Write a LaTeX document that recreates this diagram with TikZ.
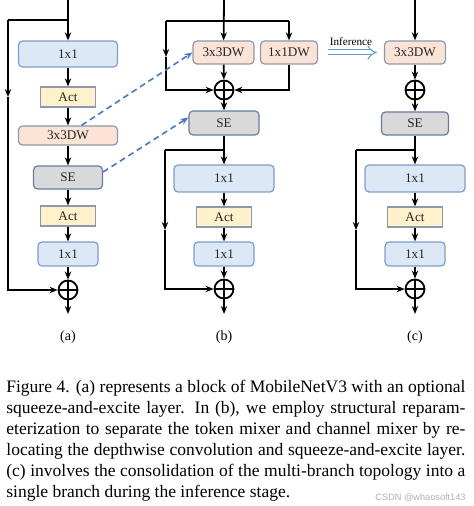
\documentclass[tikz,border=0pt]{standalone}
\usepackage{fontspec}
\setmainfont{Liberation Serif}
\newfontfamily\marksans{Liberation Sans}
\usetikzlibrary{positioning, arrows.meta}
\definecolor{convfill}{HTML}{DDE8F6}
\definecolor{convline}{HTML}{7F9CC8}
\definecolor{actfill}{HTML}{FFF1CC}
\definecolor{dwfill}{HTML}{FBE3D6}
\definecolor{sefill}{HTML}{D9D9D9}
\definecolor{boxline}{HTML}{8C98AE}
\definecolor{dashblue}{HTML}{4A78C8}
\definecolor{inferblue}{HTML}{5B9BD5}

\begin{document}
\begin{tikzpicture}[
    x=0.5pt, y=-0.5pt,
    >={Stealth[length=4pt, width=3.2pt]},
    flow/.style={draw=black, line width=0.9pt},
    box/.style={rectangle, draw=boxline, line width=0.6pt, rounded corners=2pt,
        inner sep=0pt, text centered, text=black!85,
        font=\fontsize{6.6pt}{7pt}\selectfont},
    conv/.style={box, fill=convfill, draw=convline},
    act/.style={box, fill=actfill, rounded corners=0pt,
        minimum width=27.5pt, minimum height=10pt},
    dwconv/.style={box, fill=dwfill},
    se/.style={box, fill=sefill, draw=convline!80!black},
    addop/.style={circle, draw=black, line width=0.9pt, minimum size=9.5pt, inner sep=0pt,
        path picture={\draw[line width=0.9pt]
            (path picture bounding box.north) -- (path picture bounding box.south)
            (path picture bounding box.west) -- (path picture bounding box.east);}},
    lab/.style={font=\fontsize{7pt}{8pt}\selectfont},
    mapping/.style={draw=dashblue, line width=0.8pt, dash pattern=on 3pt off 2pt, ->},
    infer/.style={draw=inferblue, line width=0.5pt, double=white, double distance=2pt,
        -{Implies}, shorten <=5pt, shorten >=3.5pt},
    caption/.style={text width=229.5pt, align=justify, inner sep=0pt,
        font=\fontsize{8.75pt}{10.5pt}\selectfont}
]
\useasboundingbox (0,0) rectangle (474,506);

% (a) MobileNetV3 block
\node (c1a) [conv, minimum width=49.5pt, minimum height=13pt] at (68,54) {1x1};
\node (act1a) [act] at (68,97) {Act};
\node (dwa) [dwconv, minimum width=49.5pt, minimum height=9.5pt] at (68,135.5) {3x3DW};
\node (sea) [se, minimum width=34.5pt, minimum height=11.5pt] at (68,177.5) {SE};
\node (act2a) [act] at (68,216) {Act};
\node (c2a) [conv, minimum width=30pt, minimum height=12pt] at (68,254) {1x1};
\node (adda) [addop] at (68,290) {};
\node (laba) [lab] at (68,337) {(a)};
\coordinate (ina) at (68,0);
\coordinate (fa) at (68,20);
\coordinate (la) at (8,20);
\coordinate (ma) at (8,97);
\coordinate (outa) at (68,314);

\draw[flow, ->] (ina) -- (c1a);
\draw[flow] (fa) -- (la);
\draw[flow, ->] (la) -- (ma);
\draw[flow, ->] (ma) |- (adda);
\draw[flow, ->] (c1a) -- (act1a);
\draw[flow, ->] (act1a) -- (dwa);
\draw[flow, ->] (dwa) -- (sea);
\draw[flow, ->] (sea) -- (act2a);
\draw[flow, ->] (act2a) -- (c2a);
\draw[flow, ->] (c2a) -- (adda);
\draw[flow, ->] (adda) -- (outa);

% (b) reparameterized training block
\node (dwb) [dwconv, minimum width=30.5pt, minimum height=11.5pt] at (223.5,52.5) {3x3DW};
\node (pwb) [dwconv, minimum width=28.5pt, minimum height=11.5pt] at (289,52.5) {1x1DW};
\node (addb1) [addop] at (224,90) {};
\node (seb) [se, minimum width=35pt, minimum height=12pt] at (224,123) {SE};
\node (c1b) [conv, minimum width=50pt, minimum height=13.5pt] at (224,178.5) {1x1};
\node (actb) [act] at (224,217) {Act};
\node (c2b) [conv, minimum width=30pt, minimum height=12pt] at (224,254) {1x1};
\node (addb2) [addop] at (224,289) {};
\node (labb) [lab] at (224,337) {(b)};
\coordinate (inb) at (224,0);
\coordinate (fb) at (224,21);
\coordinate (lb) at (166,21);
\coordinate (rb) at (289,21);
\coordinate (mb) at (166,57);
\coordinate (fb2) at (224,150);
\coordinate (lb2) at (165,150);
\coordinate (mb2) at (165,230);
\coordinate (outb) at (224,314);

\draw[flow, ->] (inb) -- (dwb);
\draw[flow] (lb) -- (rb);
\draw[flow, ->] (rb) -- (pwb);
\draw[flow, ->] (lb) -- (mb);
\draw[flow, ->] (mb) |- (addb1);
\draw[flow, ->] (dwb) -- (addb1);
\draw[flow, ->] (pwb) |- (addb1);
\draw[flow, ->] (addb1) -- (seb);
\draw[flow, ->] (seb) -- (c1b);
\draw[flow] (fb2) -- (lb2);
\draw[flow, ->] (lb2) -- (mb2);
\draw[flow, ->] (mb2) |- (addb2);
\draw[flow, ->] (c1b) -- (actb);
\draw[flow, ->] (actb) -- (c2b);
\draw[flow, ->] (c2b) -- (addb2);
\draw[flow, ->] (addb2) -- (outb);

% (c) single branch at inference
\node (dwc) [dwconv, minimum width=30.5pt, minimum height=11.5pt] at (415,52.5) {3x3DW};
\node (addc1) [addop] at (415,90) {};
\node (sec) [se, minimum width=33.5pt, minimum height=11.5pt] at (415,123.5) {SE};
\node (c1c) [conv, minimum width=50pt, minimum height=13.5pt] at (415,178.5) {1x1};
\node (actc) [act] at (415,217) {Act};
\node (c2c) [conv, minimum width=30pt, minimum height=12pt] at (415,254) {1x1};
\node (addc2) [addop] at (415,289) {};
\node (labc) [lab] at (415,337) {(c)};
\coordinate (inc) at (415,0);
\coordinate (fc) at (415,150);
\coordinate (lc) at (356,150);
\coordinate (mc) at (356,230);
\coordinate (outc) at (415,314);

\draw[flow, ->] (inc) -- (dwc);
\draw[flow, ->] (dwc) -- (addc1);
\draw[flow, ->] (addc1) -- (sec);
\draw[flow, ->] (sec) -- (c1c);
\draw[flow] (fc) -- (lc);
\draw[flow, ->] (lc) -- (mc);
\draw[flow, ->] (mc) |- (addc2);
\draw[flow, ->] (c1c) -- (actc);
\draw[flow, ->] (actc) -- (c2c);
\draw[flow, ->] (c2c) -- (addc2);
\draw[flow, ->] (addc2) -- (outc);

% relocation and inference
\draw[mapping] ([xshift=6.75pt]dwa.north) -- (dwb.west);
\draw[mapping] ([yshift=2.75pt]sea.east) -- ([yshift=2.75pt]seb.west);
\draw[infer] (pwb.east) -- node[above=3pt, inner sep=0pt, font=\fontsize{5.6pt}{6pt}\selectfont] {Inference} (dwc.west);

% caption
\node (cap) [caption, anchor=base west] at (6,392) {\hyphenpenalty=10000\exhyphenpenalty=10000%
    Figure 4. (a) represents a block of MobileNetV3 with an optional\linebreak
    squeeze-and-excite layer.  In (b), we employ structural reparam-\linebreak
    eterization to separate the token mixer and channel mixer by re-\linebreak
    locating the depthwise convolution and squeeze-and-excite layer.\linebreak
    (c) involves the consolidation of the multi-branch topology into a\linebreak
    single branch during the inference stage.};
\node (mark) [anchor=base east, inner sep=0pt, text=black!30,
    font=\marksans\fontsize{4.6pt}{5pt}\selectfont] at (466,500) {CSDN @whaosoft143};

\end{tikzpicture}
\end{document}
